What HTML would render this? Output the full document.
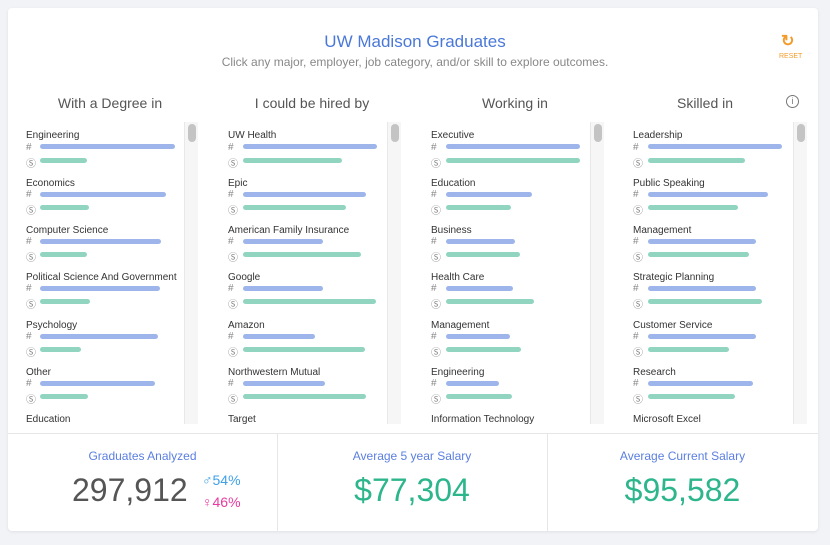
<!DOCTYPE html>
<html><head><meta charset="utf-8"><style>
*{margin:0;padding:0;box-sizing:border-box}
body{width:830px;height:545px;background:#f2f3f7;font-family:"Liberation Sans",sans-serif;position:relative;overflow:hidden}
.card{position:absolute;left:8px;top:8px;width:810px;height:523px;background:#fff;border-radius:4px;box-shadow:0 1px 3px rgba(0,0,0,.08)}
.a{position:absolute}
.t{position:absolute;white-space:nowrap}
.h{font-size:14px;color:#555;text-align:center;width:170px}
.lbl{font-size:10px;color:#333;transform:translateY(2px)}
.sym{font-size:10px;color:#888;transform:translateY(1px)}
.b{position:absolute;height:5px;border-radius:3px;background:#9db5ea}
.g{position:absolute;height:5px;border-radius:3px;background:#91d5c0}
.list{position:absolute;top:122px;height:302px;overflow:hidden}
.sb{position:absolute;top:122px;height:302px;width:14px;background:#f6f6f6;border-left:1px solid #e8e8e8}
.th{position:absolute;left:3px;top:2px;width:8px;height:18px;border-radius:4px;background:#c4c4c4}
.vd{position:absolute;top:434px;height:97px;width:1px;background:#e6e6e6}
.sl{font-size:12px;color:#5b7fe0;text-align:center}
.big{font-size:32px;color:#2db58c;text-align:center}
</style></head><body>
<div class="card"></div>
<div class="t" style="left:0;width:830px;top:32px;text-align:center;font-size:17px;color:#4a78d8">UW Madison Graduates</div>
<div class="t" style="left:0;width:830px;top:55px;text-align:center;font-size:12px;color:#888">Click any major, employer, job category, and/or skill to explore outcomes.</div>
<div class="t" style="left:781px;top:31px;font-size:16px;color:#f39c2b;font-weight:bold">&#x21bb;</div>
<div class="t" style="left:779px;top:53px;font-size:7px;color:#f39c2b">RESET</div>
<div class="t" style="left:786px;top:95px;width:13px;height:13px;border:1px solid #777;border-radius:50%;font-size:9px;color:#777;text-align:center;line-height:11px">i</div>

<div class="t h" style="left:25px;top:95px">With a Degree in</div>
<div class="t h" style="left:227px;top:95px">I could be hired by</div>
<div class="t h" style="left:430px;top:95px">Working in</div>
<div class="t h" style="left:620px;top:95px">Skilled in</div>

<!-- col 1 -->
<div class="list" style="left:24px;width:160px">
<div class="t lbl" style="left:2px;top:6px">Engineering</div><div class="t sym" style="left:2px;top:19px">#</div><div class="t sym" style="left:2px;top:32px">&#9416;</div><div class="b" style="left:16px;top:22px;width:135px"></div><div class="g" style="left:16px;top:36px;width:47px"></div>
<div class="t lbl" style="left:2px;top:54px">Economics</div><div class="t sym" style="left:2px;top:66px">#</div><div class="t sym" style="left:2px;top:79px">&#9416;</div><div class="b" style="left:16px;top:70px;width:126px"></div><div class="g" style="left:16px;top:83px;width:49px"></div>
<div class="t lbl" style="left:2px;top:101px">Computer Science</div><div class="t sym" style="left:2px;top:113px">#</div><div class="t sym" style="left:2px;top:126px">&#9416;</div><div class="b" style="left:16px;top:117px;width:121px"></div><div class="g" style="left:16px;top:130px;width:47px"></div>
<div class="t lbl" style="left:2px;top:148px">Political Science And Government</div><div class="t sym" style="left:2px;top:160px">#</div><div class="t sym" style="left:2px;top:173px">&#9416;</div><div class="b" style="left:16px;top:164px;width:120px"></div><div class="g" style="left:16px;top:177px;width:50px"></div>
<div class="t lbl" style="left:2px;top:196px">Psychology</div><div class="t sym" style="left:2px;top:208px">#</div><div class="t sym" style="left:2px;top:221px">&#9416;</div><div class="b" style="left:16px;top:212px;width:118px"></div><div class="g" style="left:16px;top:225px;width:41px"></div>
<div class="t lbl" style="left:2px;top:243px">Other</div><div class="t sym" style="left:2px;top:255px">#</div><div class="t sym" style="left:2px;top:268px">&#9416;</div><div class="b" style="left:16px;top:259px;width:115px"></div><div class="g" style="left:16px;top:272px;width:48px"></div>
<div class="t lbl" style="left:2px;top:290px">Education</div>
</div>
<div class="sb" style="left:184px"><div class="th"></div></div>

<!-- col 2 -->
<div class="list" style="left:226px;width:160px">
<div class="t lbl" style="left:2px;top:6px">UW Health</div><div class="t sym" style="left:2px;top:19px">#</div><div class="t sym" style="left:2px;top:32px">&#9416;</div><div class="b" style="left:17px;top:22px;width:134px"></div><div class="g" style="left:17px;top:36px;width:99px"></div>
<div class="t lbl" style="left:2px;top:54px">Epic</div><div class="t sym" style="left:2px;top:66px">#</div><div class="t sym" style="left:2px;top:79px">&#9416;</div><div class="b" style="left:17px;top:70px;width:123px"></div><div class="g" style="left:17px;top:83px;width:103px"></div>
<div class="t lbl" style="left:2px;top:101px">American Family Insurance</div><div class="t sym" style="left:2px;top:113px">#</div><div class="t sym" style="left:2px;top:126px">&#9416;</div><div class="b" style="left:17px;top:117px;width:80px"></div><div class="g" style="left:17px;top:130px;width:118px"></div>
<div class="t lbl" style="left:2px;top:148px">Google</div><div class="t sym" style="left:2px;top:160px">#</div><div class="t sym" style="left:2px;top:173px">&#9416;</div><div class="b" style="left:17px;top:164px;width:80px"></div><div class="g" style="left:17px;top:177px;width:133px"></div>
<div class="t lbl" style="left:2px;top:196px">Amazon</div><div class="t sym" style="left:2px;top:208px">#</div><div class="t sym" style="left:2px;top:221px">&#9416;</div><div class="b" style="left:17px;top:212px;width:72px"></div><div class="g" style="left:17px;top:225px;width:122px"></div>
<div class="t lbl" style="left:2px;top:243px">Northwestern Mutual</div><div class="t sym" style="left:2px;top:255px">#</div><div class="t sym" style="left:2px;top:268px">&#9416;</div><div class="b" style="left:17px;top:259px;width:82px"></div><div class="g" style="left:17px;top:272px;width:123px"></div>
<div class="t lbl" style="left:2px;top:290px">Target</div>
</div>
<div class="sb" style="left:387px"><div class="th"></div></div>

<!-- col 3 -->
<div class="list" style="left:429px;width:160px">
<div class="t lbl" style="left:2px;top:6px">Executive</div><div class="t sym" style="left:2px;top:19px">#</div><div class="t sym" style="left:2px;top:32px">&#9416;</div><div class="b" style="left:17px;top:22px;width:134px"></div><div class="g" style="left:17px;top:36px;width:134px"></div>
<div class="t lbl" style="left:2px;top:54px">Education</div><div class="t sym" style="left:2px;top:66px">#</div><div class="t sym" style="left:2px;top:79px">&#9416;</div><div class="b" style="left:17px;top:70px;width:86px"></div><div class="g" style="left:17px;top:83px;width:65px"></div>
<div class="t lbl" style="left:2px;top:101px">Business</div><div class="t sym" style="left:2px;top:113px">#</div><div class="t sym" style="left:2px;top:126px">&#9416;</div><div class="b" style="left:17px;top:117px;width:69px"></div><div class="g" style="left:17px;top:130px;width:74px"></div>
<div class="t lbl" style="left:2px;top:148px">Health Care</div><div class="t sym" style="left:2px;top:160px">#</div><div class="t sym" style="left:2px;top:173px">&#9416;</div><div class="b" style="left:17px;top:164px;width:67px"></div><div class="g" style="left:17px;top:177px;width:88px"></div>
<div class="t lbl" style="left:2px;top:196px">Management</div><div class="t sym" style="left:2px;top:208px">#</div><div class="t sym" style="left:2px;top:221px">&#9416;</div><div class="b" style="left:17px;top:212px;width:64px"></div><div class="g" style="left:17px;top:225px;width:75px"></div>
<div class="t lbl" style="left:2px;top:243px">Engineering</div><div class="t sym" style="left:2px;top:255px">#</div><div class="t sym" style="left:2px;top:268px">&#9416;</div><div class="b" style="left:17px;top:259px;width:53px"></div><div class="g" style="left:17px;top:272px;width:66px"></div>
<div class="t lbl" style="left:2px;top:290px">Information Technology</div>
</div>
<div class="sb" style="left:590px"><div class="th"></div></div>

<!-- col 4 -->
<div class="list" style="left:631px;width:160px">
<div class="t lbl" style="left:2px;top:6px">Leadership</div><div class="t sym" style="left:2px;top:19px">#</div><div class="t sym" style="left:2px;top:32px">&#9416;</div><div class="b" style="left:17px;top:22px;width:134px"></div><div class="g" style="left:17px;top:36px;width:97px"></div>
<div class="t lbl" style="left:2px;top:54px">Public Speaking</div><div class="t sym" style="left:2px;top:66px">#</div><div class="t sym" style="left:2px;top:79px">&#9416;</div><div class="b" style="left:17px;top:70px;width:120px"></div><div class="g" style="left:17px;top:83px;width:90px"></div>
<div class="t lbl" style="left:2px;top:101px">Management</div><div class="t sym" style="left:2px;top:113px">#</div><div class="t sym" style="left:2px;top:126px">&#9416;</div><div class="b" style="left:17px;top:117px;width:108px"></div><div class="g" style="left:17px;top:130px;width:101px"></div>
<div class="t lbl" style="left:2px;top:148px">Strategic Planning</div><div class="t sym" style="left:2px;top:160px">#</div><div class="t sym" style="left:2px;top:173px">&#9416;</div><div class="b" style="left:17px;top:164px;width:108px"></div><div class="g" style="left:17px;top:177px;width:114px"></div>
<div class="t lbl" style="left:2px;top:196px">Customer Service</div><div class="t sym" style="left:2px;top:208px">#</div><div class="t sym" style="left:2px;top:221px">&#9416;</div><div class="b" style="left:17px;top:212px;width:108px"></div><div class="g" style="left:17px;top:225px;width:81px"></div>
<div class="t lbl" style="left:2px;top:243px">Research</div><div class="t sym" style="left:2px;top:255px">#</div><div class="t sym" style="left:2px;top:268px">&#9416;</div><div class="b" style="left:17px;top:259px;width:105px"></div><div class="g" style="left:17px;top:272px;width:87px"></div>
<div class="t lbl" style="left:2px;top:290px">Microsoft Excel</div>
</div>
<div class="sb" style="left:793px"><div class="th"></div></div>

<!-- stats -->
<div class="a" style="left:8px;top:433px;width:810px;height:1px;background:#e6e6e6"></div>
<div class="vd" style="left:277px"></div>
<div class="vd" style="left:547px"></div>
<div class="t sl" style="left:8px;width:269px;top:449px">Graduates Analyzed</div>
<div class="t" style="left:72px;top:472px;font-size:32px;color:#555">297,912</div>
<div class="t" style="left:202px;top:472px;font-size:14px;color:#3fa0e8">&#9794;54%</div>
<div class="t" style="left:202px;top:494px;font-size:14px;color:#e83aa0">&#9792;46%</div>
<div class="t sl" style="left:277px;width:270px;top:449px">Average 5 year Salary</div>
<div class="t big" style="left:277px;width:270px;top:472px">$77,304</div>
<div class="t sl" style="left:547px;width:271px;top:449px">Average Current Salary</div>
<div class="t big" style="left:547px;width:271px;top:472px">$95,582</div>
</body></html>
